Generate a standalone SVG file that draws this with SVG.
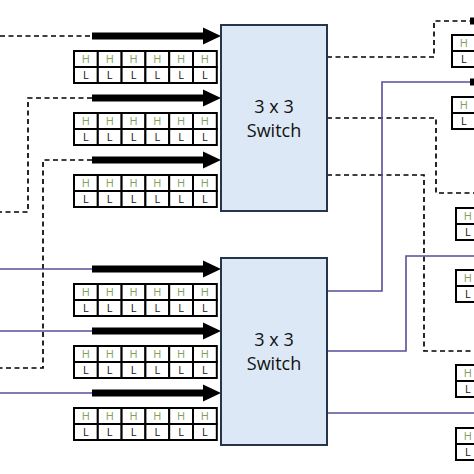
<svg xmlns="http://www.w3.org/2000/svg" width="474" height="474" viewBox="0 0 474 474">
<style>
.sw{fill:#dce8f5;stroke:#25354a;stroke-width:2}
.st{font-family:"Open Sans","Liberation Sans",sans-serif;font-size:18px;fill:#111;text-anchor:middle}
.cell{fill:#fff;stroke:#000;stroke-width:2}
.h{font-family:"Open Sans","Liberation Sans",sans-serif;font-size:11px;fill:#7f9f5f;text-anchor:middle}
.l{font-family:"Open Sans","Liberation Sans",sans-serif;font-size:11px;fill:#111;text-anchor:middle}
.dash{fill:none;stroke:#000;stroke-width:1.7;stroke-dasharray:5,3.5}
.blue{fill:none;stroke:#574f99;stroke-width:1.6}
.arr{fill:#000}
</style>
<defs>
<g id="arrowShape"><rect x="92" y="-3.5" width="113" height="7"/><polygon points="203,-8.5 221,0 203,8.5"/></g>
</defs>
<g id="connectors">
<path class="dash" d="M0,36 H92"/>
<path class="dash" d="M92,98 H28 V212 H0"/>
<path class="dash" d="M92,160 H43 V368 H0"/>
<path class="blue" d="M0,269 H92"/>
<path class="blue" d="M0,331 H92"/>
<path class="blue" d="M0,393 H92"/>
<path class="dash" d="M327,57 H434 V21 H471"/>
<path class="dash" d="M327,118 H436 V193 H474"/>
<path class="dash" d="M327,175 H424 V351 H474"/>
<path class="blue" d="M327,291 H382 V82 H471"/>
<path class="blue" d="M327,351 H406 V256 H474"/>
<path class="blue" d="M327,413 H474"/>
<rect class="arr" x="470" y="17.5" width="6" height="7"/>
<rect class="arr" x="470" y="78.5" width="6" height="7"/>
<use href="#arrowShape" class="arr" y="36"/>
<use href="#arrowShape" class="arr" y="98"/>
<use href="#arrowShape" class="arr" y="160"/>
<use href="#arrowShape" class="arr" y="269"/>
<use href="#arrowShape" class="arr" y="331"/>
<use href="#arrowShape" class="arr" y="393"/>
</g>
<g id="switch1"><rect class="sw" x="221" y="25" width="106" height="186"/><text class="st" x="274" y="113">3 x 3</text><text class="st" x="274" y="137">Switch</text></g>
<g id="switch2"><rect class="sw" x="221" y="258" width="106" height="187"/><text class="st" x="274" y="346">3 x 3</text><text class="st" x="274" y="370">Switch</text></g>
<g id="reg1" transform="translate(74,51)">
<rect class="cell" x="0" y="0" width="23.8" height="16"/><rect class="cell" x="23.8" y="0" width="23.8" height="16"/><rect class="cell" x="47.6" y="0" width="23.8" height="16"/><rect class="cell" x="71.4" y="0" width="23.8" height="16"/><rect class="cell" x="95.2" y="0" width="23.8" height="16"/><rect class="cell" x="119" y="0" width="23.8" height="16"/>
<rect class="cell" x="0" y="16" width="23.8" height="16"/><rect class="cell" x="23.8" y="16" width="23.8" height="16"/><rect class="cell" x="47.6" y="16" width="23.8" height="16"/><rect class="cell" x="71.4" y="16" width="23.8" height="16"/><rect class="cell" x="95.2" y="16" width="23.8" height="16"/><rect class="cell" x="119" y="16" width="23.8" height="16"/>
<text class="h" x="11.9" y="12">H</text><text class="h" x="35.7" y="12">H</text><text class="h" x="59.5" y="12">H</text><text class="h" x="83.3" y="12">H</text><text class="h" x="107.1" y="12">H</text><text class="h" x="130.9" y="12">H</text>
<text class="l" x="11.9" y="28">L</text><text class="l" x="35.7" y="28">L</text><text class="l" x="59.5" y="28">L</text><text class="l" x="83.3" y="28">L</text><text class="l" x="107.1" y="28">L</text><text class="l" x="130.9" y="28">L</text>
</g>
<g id="reg2" transform="translate(74,113)">
<rect class="cell" x="0" y="0" width="23.8" height="16"/><rect class="cell" x="23.8" y="0" width="23.8" height="16"/><rect class="cell" x="47.6" y="0" width="23.8" height="16"/><rect class="cell" x="71.4" y="0" width="23.8" height="16"/><rect class="cell" x="95.2" y="0" width="23.8" height="16"/><rect class="cell" x="119" y="0" width="23.8" height="16"/>
<rect class="cell" x="0" y="16" width="23.8" height="16"/><rect class="cell" x="23.8" y="16" width="23.8" height="16"/><rect class="cell" x="47.6" y="16" width="23.8" height="16"/><rect class="cell" x="71.4" y="16" width="23.8" height="16"/><rect class="cell" x="95.2" y="16" width="23.8" height="16"/><rect class="cell" x="119" y="16" width="23.8" height="16"/>
<text class="h" x="11.9" y="12">H</text><text class="h" x="35.7" y="12">H</text><text class="h" x="59.5" y="12">H</text><text class="h" x="83.3" y="12">H</text><text class="h" x="107.1" y="12">H</text><text class="h" x="130.9" y="12">H</text>
<text class="l" x="11.9" y="28">L</text><text class="l" x="35.7" y="28">L</text><text class="l" x="59.5" y="28">L</text><text class="l" x="83.3" y="28">L</text><text class="l" x="107.1" y="28">L</text><text class="l" x="130.9" y="28">L</text>
</g>
<g id="reg3" transform="translate(74,175)">
<rect class="cell" x="0" y="0" width="23.8" height="16"/><rect class="cell" x="23.8" y="0" width="23.8" height="16"/><rect class="cell" x="47.6" y="0" width="23.8" height="16"/><rect class="cell" x="71.4" y="0" width="23.8" height="16"/><rect class="cell" x="95.2" y="0" width="23.8" height="16"/><rect class="cell" x="119" y="0" width="23.8" height="16"/>
<rect class="cell" x="0" y="16" width="23.8" height="16"/><rect class="cell" x="23.8" y="16" width="23.8" height="16"/><rect class="cell" x="47.6" y="16" width="23.8" height="16"/><rect class="cell" x="71.4" y="16" width="23.8" height="16"/><rect class="cell" x="95.2" y="16" width="23.8" height="16"/><rect class="cell" x="119" y="16" width="23.8" height="16"/>
<text class="h" x="11.9" y="12">H</text><text class="h" x="35.7" y="12">H</text><text class="h" x="59.5" y="12">H</text><text class="h" x="83.3" y="12">H</text><text class="h" x="107.1" y="12">H</text><text class="h" x="130.9" y="12">H</text>
<text class="l" x="11.9" y="28">L</text><text class="l" x="35.7" y="28">L</text><text class="l" x="59.5" y="28">L</text><text class="l" x="83.3" y="28">L</text><text class="l" x="107.1" y="28">L</text><text class="l" x="130.9" y="28">L</text>
</g>
<g id="reg4" transform="translate(74,284)">
<rect class="cell" x="0" y="0" width="23.8" height="16"/><rect class="cell" x="23.8" y="0" width="23.8" height="16"/><rect class="cell" x="47.6" y="0" width="23.8" height="16"/><rect class="cell" x="71.4" y="0" width="23.8" height="16"/><rect class="cell" x="95.2" y="0" width="23.8" height="16"/><rect class="cell" x="119" y="0" width="23.8" height="16"/>
<rect class="cell" x="0" y="16" width="23.8" height="16"/><rect class="cell" x="23.8" y="16" width="23.8" height="16"/><rect class="cell" x="47.6" y="16" width="23.8" height="16"/><rect class="cell" x="71.4" y="16" width="23.8" height="16"/><rect class="cell" x="95.2" y="16" width="23.8" height="16"/><rect class="cell" x="119" y="16" width="23.8" height="16"/>
<text class="h" x="11.9" y="12">H</text><text class="h" x="35.7" y="12">H</text><text class="h" x="59.5" y="12">H</text><text class="h" x="83.3" y="12">H</text><text class="h" x="107.1" y="12">H</text><text class="h" x="130.9" y="12">H</text>
<text class="l" x="11.9" y="28">L</text><text class="l" x="35.7" y="28">L</text><text class="l" x="59.5" y="28">L</text><text class="l" x="83.3" y="28">L</text><text class="l" x="107.1" y="28">L</text><text class="l" x="130.9" y="28">L</text>
</g>
<g id="reg5" transform="translate(74,346)">
<rect class="cell" x="0" y="0" width="23.8" height="16"/><rect class="cell" x="23.8" y="0" width="23.8" height="16"/><rect class="cell" x="47.6" y="0" width="23.8" height="16"/><rect class="cell" x="71.4" y="0" width="23.8" height="16"/><rect class="cell" x="95.2" y="0" width="23.8" height="16"/><rect class="cell" x="119" y="0" width="23.8" height="16"/>
<rect class="cell" x="0" y="16" width="23.8" height="16"/><rect class="cell" x="23.8" y="16" width="23.8" height="16"/><rect class="cell" x="47.6" y="16" width="23.8" height="16"/><rect class="cell" x="71.4" y="16" width="23.8" height="16"/><rect class="cell" x="95.2" y="16" width="23.8" height="16"/><rect class="cell" x="119" y="16" width="23.8" height="16"/>
<text class="h" x="11.9" y="12">H</text><text class="h" x="35.7" y="12">H</text><text class="h" x="59.5" y="12">H</text><text class="h" x="83.3" y="12">H</text><text class="h" x="107.1" y="12">H</text><text class="h" x="130.9" y="12">H</text>
<text class="l" x="11.9" y="28">L</text><text class="l" x="35.7" y="28">L</text><text class="l" x="59.5" y="28">L</text><text class="l" x="83.3" y="28">L</text><text class="l" x="107.1" y="28">L</text><text class="l" x="130.9" y="28">L</text>
</g>
<g id="reg6" transform="translate(74,408)">
<rect class="cell" x="0" y="0" width="23.8" height="16"/><rect class="cell" x="23.8" y="0" width="23.8" height="16"/><rect class="cell" x="47.6" y="0" width="23.8" height="16"/><rect class="cell" x="71.4" y="0" width="23.8" height="16"/><rect class="cell" x="95.2" y="0" width="23.8" height="16"/><rect class="cell" x="119" y="0" width="23.8" height="16"/>
<rect class="cell" x="0" y="16" width="23.8" height="16"/><rect class="cell" x="23.8" y="16" width="23.8" height="16"/><rect class="cell" x="47.6" y="16" width="23.8" height="16"/><rect class="cell" x="71.4" y="16" width="23.8" height="16"/><rect class="cell" x="95.2" y="16" width="23.8" height="16"/><rect class="cell" x="119" y="16" width="23.8" height="16"/>
<text class="h" x="11.9" y="12">H</text><text class="h" x="35.7" y="12">H</text><text class="h" x="59.5" y="12">H</text><text class="h" x="83.3" y="12">H</text><text class="h" x="107.1" y="12">H</text><text class="h" x="130.9" y="12">H</text>
<text class="l" x="11.9" y="28">L</text><text class="l" x="35.7" y="28">L</text><text class="l" x="59.5" y="28">L</text><text class="l" x="83.3" y="28">L</text><text class="l" x="107.1" y="28">L</text><text class="l" x="130.9" y="28">L</text>
</g>
<g id="reg7" transform="translate(452,35)"><rect class="cell" x="0" y="0" width="23.8" height="16"/><rect class="cell" x="0" y="16" width="23.8" height="16"/><text class="h" x="11.9" y="12">H</text><text class="l" x="11.9" y="28">L</text></g>
<g id="reg8" transform="translate(452,97)"><rect class="cell" x="0" y="0" width="23.8" height="16"/><rect class="cell" x="0" y="16" width="23.8" height="16"/><text class="h" x="11.9" y="12">H</text><text class="l" x="11.9" y="28">L</text></g>
<g id="reg9" transform="translate(456,208)"><rect class="cell" x="0" y="0" width="23.8" height="16"/><rect class="cell" x="0" y="16" width="23.8" height="16"/><text class="h" x="11.9" y="12">H</text><text class="l" x="11.9" y="28">L</text></g>
<g id="reg10" transform="translate(456,270)"><rect class="cell" x="0" y="0" width="23.8" height="16"/><rect class="cell" x="0" y="16" width="23.8" height="16"/><text class="h" x="11.9" y="12">H</text><text class="l" x="11.9" y="28">L</text></g>
<g id="reg11" transform="translate(456,365)"><rect class="cell" x="0" y="0" width="23.8" height="16"/><rect class="cell" x="0" y="16" width="23.8" height="16"/><text class="h" x="11.9" y="12">H</text><text class="l" x="11.9" y="28">L</text></g>
<g id="reg12" transform="translate(456,428)"><rect class="cell" x="0" y="0" width="23.8" height="16"/><rect class="cell" x="0" y="16" width="23.8" height="16"/><text class="h" x="11.9" y="12">H</text><text class="l" x="11.9" y="28">L</text></g>
</svg>
